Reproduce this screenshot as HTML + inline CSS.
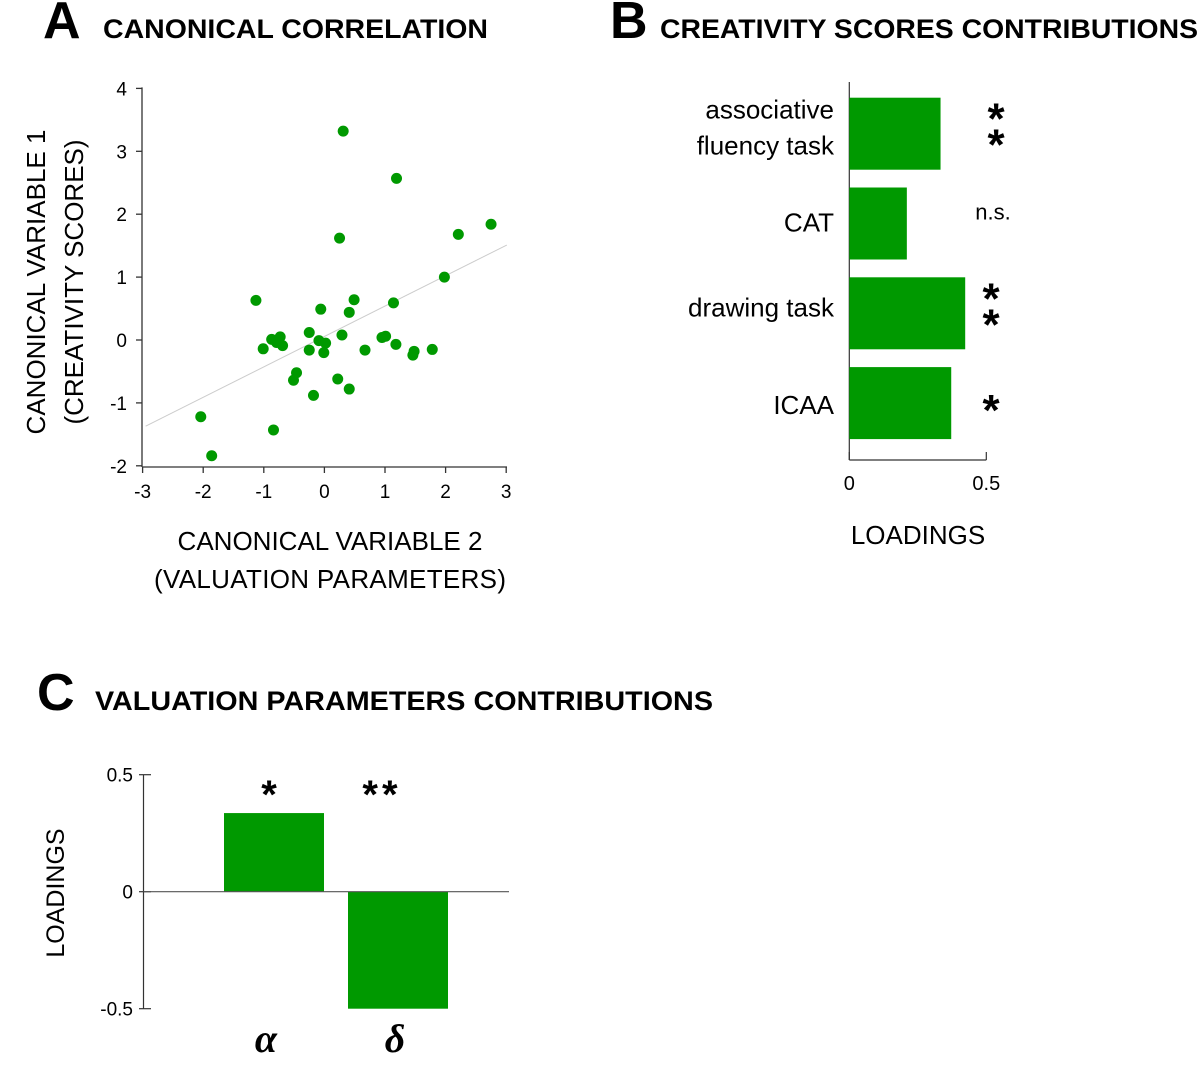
<!DOCTYPE html>
<html><head><meta charset="utf-8"><style>
body{margin:0;background:#fff;}
svg{display:block;font-family:"Liberation Sans",sans-serif;}
</style></head><body>
<svg id="fig" width="1200" height="1092" viewBox="0 0 1200 1092">
<g font-weight="bold" fill="#000">
<text x="43" y="38" font-size="52">A</text>
<text x="103" y="38" font-size="27" textLength="385" lengthAdjust="spacingAndGlyphs">CANONICAL CORRELATION</text>
<text x="610" y="38" font-size="52">B</text>
<text x="660" y="38" font-size="27" textLength="538" lengthAdjust="spacingAndGlyphs">CREATIVITY SCORES CONTRIBUTIONS</text>
<text x="37" y="710" font-size="52">C</text>
<text x="95" y="710" font-size="27" textLength="618" lengthAdjust="spacingAndGlyphs">VALUATION PARAMETERS CONTRIBUTIONS</text>
</g>
<g id="pa"></g>
<g id="pb"></g>
<g id="pc"></g>
</svg>
<script>
const ptX=[0.31,1.19,0.25,2.75,2.21,1.98,-1.13,-0.06,0.49,0.41,1.14,-0.25,0.29,-0.87,-0.73,-0.79,-0.69,-1.01,-0.09,0.02,-0.25,-0.01,0.67,0.95,1.01,1.18,1.48,1.46,1.78,-0.46,-0.51,0.22,0.41,-0.18,-2.04,-0.84,-1.86];
const ptY=[3.32,2.57,1.62,1.84,1.68,1.0,0.63,0.49,0.64,0.44,0.59,0.12,0.08,0.01,0.05,-0.04,-0.09,-0.14,-0.01,-0.05,-0.16,-0.2,-0.16,0.04,0.06,-0.07,-0.18,-0.24,-0.15,-0.52,-0.64,-0.62,-0.78,-0.88,-1.22,-1.43,-1.84];
const fitX=[-2.95,3.01];
const fitY=[-1.37,1.51];
const xTicks=[-3,-2,-1,0,1,2,3];
const yTicks=[-2,-1,0,1,2,3,4];
const bCats=[["associative","fluency task"],["CAT"],["drawing task"],["ICAA"]];
const bVals=[0.333,0.21,0.423,0.372];
const bSig=["**","n.s.","**","*"];
const bTicks=[0,0.5];
const cCats=["α","δ"];
const cVals=[0.336,-0.50];
const cSig=["*","**"];
const cTicks=[-0.5,0,0.5];
const NS="http://www.w3.org/2000/svg";
function mk(p,t,a,txt){const e=document.createElementNS(NS,t);for(const k in a)e.setAttribute(k,a[k]);if(txt!==undefined)e.textContent=txt;p.appendChild(e);return e;}
const G="#009900";
// Panel A
const pa=document.getElementById('pa');
const ax=v=>324.4+v*60.6, ay=v=>340-v*62.9;
let e;
e=mk(pa,'line',{x1:142,y1:ay(4)-1,x2:142,y2:467,stroke:'#333','stroke-width':1.3});


e=mk(pa,'line',{x1:142,y1:467,x2:507,y2:467,stroke:'#333','stroke-width':1.3});


xTicks.forEach(t=>{mk(pa,'line',{x1:ax(t),y1:467,x2:ax(t),y2:473,stroke:'#333','stroke-width':1.3});
e=mk(pa,'text',{x:ax(t),y:498,'font-size':19,'text-anchor':'middle'},String(t));

});
yTicks.forEach(t=>{mk(pa,'line',{x1:136,y1:ay(t),x2:142,y2:ay(t),stroke:'#333','stroke-width':1.3});
e=mk(pa,'text',{x:127,y:ay(t)+7,'font-size':19,'text-anchor':'end'},String(t));

});
e=mk(pa,'line',{x1:ax(fitX[0]),y1:ay(fitY[0]),x2:ax(fitX[1]),y2:ay(fitY[1]),stroke:'#ccc','stroke-width':1});


ptX.forEach((x,i)=>{e=mk(pa,'circle',{cx:ax(x),cy:ay(ptY[i]),r:5.5,fill:G});

});
e=mk(pa,'text',{x:330,y:550,'font-size':26,'text-anchor':'middle'},'CANONICAL VARIABLE 2');


e=mk(pa,'text',{x:330,y:588,'font-size':26,'text-anchor':'middle','textLength':352},'(VALUATION PARAMETERS)');


e=mk(pa,'text',{x:0,y:0,'font-size':26,'text-anchor':'middle',transform:'translate(45,282) rotate(-90)'},'CANONICAL VARIABLE 1');


e=mk(pa,'text',{x:0,y:0,'font-size':26,'text-anchor':'middle',transform:'translate(83,282) rotate(-90)'},'(CREATIVITY SCORES)');


// Panel B
const pb=document.getElementById('pb');
const bx=v=>849.3+v*274;
const bandTop=i=>97.7+i*89.8;
const labelShift=[0,5,0,8];
e=mk(pb,'line',{x1:849.3,y1:82,x2:849.3,y2:460,stroke:'#333','stroke-width':1.2});


e=mk(pb,'line',{x1:849.3,y1:460,x2:bx(0.5),y2:460,stroke:'#333','stroke-width':1.2});


bTicks.forEach(t=>{mk(pb,'line',{x1:bx(t),y1:452,x2:bx(t),y2:460,stroke:'#333','stroke-width':1.2});
e=mk(pb,'text',{x:bx(t),y:490,'font-size':20,'text-anchor':'middle'},String(t));

});
bVals.forEach((v,i)=>{const t=bandTop(i);
e=mk(pb,'rect',{x:849.3,y:t,width:bx(v)-849.3,height:72,fill:G});


const L=bCats[i];const cy=t+36;
L.forEach((s,j)=>{e=mk(pb,'text',{x:834,y:cy+3+labelShift[i]+(j-(L.length-1)/2)*36,'font-size':26,'text-anchor':'end'},s);

});
const sg=bSig[i];
if(sg==='n.s.'){e=mk(pb,'text',{x:993,y:cy-4,'font-size':22,'text-anchor':'middle'},sg);}
else if(sg==='**'){const sx=(i===0?996:991);e=mk(pb,'text',{x:sx,y:cy+12,'font-size':44,'text-anchor':'middle','font-weight':'bold'});
mk(e,'tspan',{x:sx,dy:-12},'*');mk(e,'tspan',{x:sx,dy:26},'*');}
else {e=mk(pb,'text',{x:991,y:cy+22,'font-size':44,'text-anchor':'middle','font-weight':'bold'},sg);}

});
e=mk(pb,'text',{x:918,y:544,'font-size':26,'text-anchor':'middle'},'LOADINGS');


// Panel C
const pc=document.getElementById('pc');
const cy0=v=>891.7-v*234;
const cBarX=i=>224+i*124;
e=mk(pc,'line',{x1:143.5,y1:cy0(0.5),x2:143.5,y2:cy0(-0.5),stroke:'#333','stroke-width':1.2});


cTicks.forEach(t=>{mk(pc,'line',{x1:139,y1:cy0(t),x2:151,y2:cy0(t),stroke:'#333','stroke-width':1.2});
e=mk(pc,'text',{x:133,y:cy0(t)+7,'font-size':19,'text-anchor':'end'},String(t));

});
cVals.forEach((v,i)=>{const x=cBarX(i);
e=mk(pc,'rect',{x:x,y:Math.min(cy0(v),cy0(0)),width:100,height:Math.abs(cy0(v)-cy0(0)),fill:G});


e=mk(pc,'text',{x:x+(i===0?42:47),y:1052,'font-size':40,'font-weight':'bold','font-style':'italic','text-anchor':'middle','font-family':'"Liberation Serif",serif'},cCats[i]);


e=mk(pc,'text',{x:x+(i===0?47:34),y:808,'font-size':40,'font-weight':'bold','text-anchor':'middle','letter-spacing':'4'},cSig[i]);

});
e=mk(pc,'line',{x1:143.5,y1:cy0(0),x2:509,y2:cy0(0),stroke:'#555','stroke-width':1.2});


e=mk(pc,'text',{x:0,y:0,'font-size':25,'text-anchor':'middle',transform:'translate(64,893) rotate(-90)'},'LOADINGS');


</script>
</body></html>
